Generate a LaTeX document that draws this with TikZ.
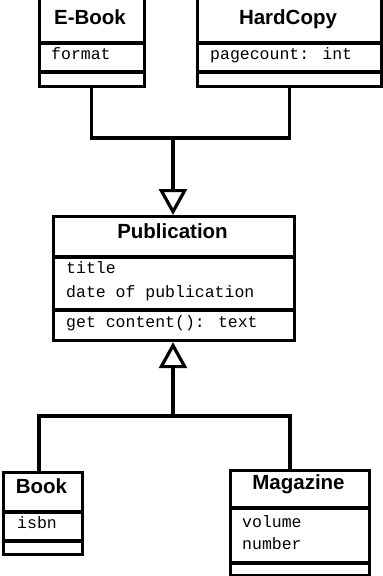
\documentclass[tikz,border=0pt]{standalone}
\usepackage{fontspec}
\setmainfont{Liberation Sans}
\newfontfamily\monof{Liberation Mono}
\usetikzlibrary{arrows.meta,calc}
\begin{document}
\begin{tikzpicture}[x=1pt,y=-1pt,
  cls/.style={draw, line width=3.2pt, rectangle, inner sep=0pt, anchor=north west},
  sep/.style={line width=3.2pt},
  conn/.style={line width=3.2pt},
  gen/.style={line width=3.2pt, -{Triangle[open,length=26pt,width=28pt]}},
  ttl/.style={font=\fontsize{20.5}{22}\selectfont\bfseries, anchor=base, inner sep=0pt},
  attr/.style={font=\monof\fontsize{16.5}{18}\selectfont, anchor=base west, inner sep=0pt}]
\useasboundingbox (0,0) rectangle (383,576);
% E-Book
\node[cls, minimum width=105.5pt, minimum height=90pt] (eb) at (37.5,-5) {};
\draw[sep] ([yshift=-48pt]eb.north west) -- ([yshift=-48pt]eb.north east);
\draw[sep] ([yshift=-77pt]eb.north west) -- ([yshift=-77pt]eb.north east);
\node[ttl] (ebt) at (90,24) {E-Book};
\node[attr] (eba) at (51,59) {format};
% HardCopy
\node[cls, minimum width=184pt, minimum height=90pt] (hc) at (196,-5) {};
\draw[sep] ([yshift=-48pt]hc.north west) -- ([yshift=-48pt]hc.north east);
\draw[sep] ([yshift=-77pt]hc.north west) -- ([yshift=-77pt]hc.north east);
\node[ttl] (hct) at (288,24) {HardCopy};
\node[attr] (hca) at (210,59) {pagecount: int};
% Publication
\node[cls, minimum width=241pt, minimum height=124pt] (pub) at (52,215) {};
\draw[sep] ([yshift=-42pt]pub.north west) -- ([yshift=-42pt]pub.north east);
\draw[sep] ([yshift=-95pt]pub.north west) -- ([yshift=-95pt]pub.north east);
\node[ttl] (pubt) at (172.5,238) {Publication};
\node[attr] (puba) at (66,273) {title};
\node[attr] (pubb) at (66,297) {date of publication};
\node[attr] (pubc) at (66,327) {get content(): text};
% Book
\node[cls, minimum width=79pt, minimum height=82pt] (bk) at (2,471) {};
\draw[sep] ([yshift=-41pt]bk.north west) -- ([yshift=-41pt]bk.north east);
\draw[sep] ([yshift=-70pt]bk.north west) -- ([yshift=-70pt]bk.north east);
\node[ttl] (bkt) at (41.5,493) {Book};
\node[attr] (bka) at (17,528) {isbn};
% Magazine
\node[cls, minimum width=139pt, minimum height=105pt] (mag) at (229,469) {};
\draw[sep] ([yshift=-39pt]mag.north west) -- ([yshift=-39pt]mag.north east);
\draw[sep] ([yshift=-94pt]mag.north west) -- ([yshift=-94pt]mag.north east);
\node[ttl] (magt) at (298.5,489) {Magazine};
\node[attr] (maga) at (242,527) {volume};
\node[attr] (magb) at (242,549) {number};
% connectors
\coordinate (j1) at (173,138);
\coordinate (j2) at (173,416);
\draw[conn] (eb.south) |- (j1) -| (hc.south);
\draw[gen] (j1) -- (pub.north -| j1);
\draw[conn] ($(bk.north west)+(37,0)$) |- (j2) -| ($(mag.north west)+(61,0)$);
\draw[gen] (j2) -- (pub.south -| j2);
\end{tikzpicture}
\end{document}
